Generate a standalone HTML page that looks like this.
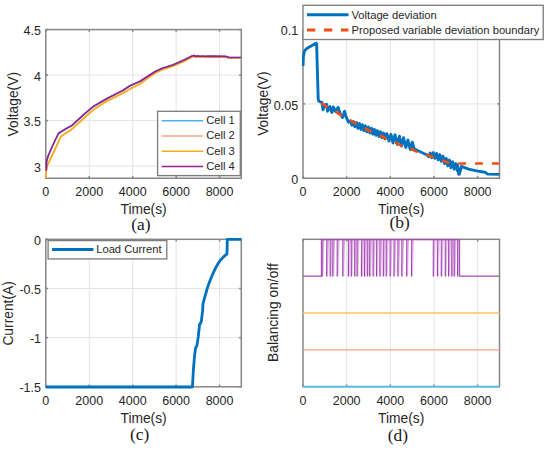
<!DOCTYPE html>
<html><head><meta charset="utf-8"><style>
html,body{margin:0;padding:0;background:#fff;}
svg{display:block;}
text{font-family:"Liberation Sans",sans-serif;}
.serif text{font-family:"Liberation Serif",serif;}
</style></head><body>
<svg width="550" height="453" viewBox="0 0 550 453">
<rect width="550" height="453" fill="#fff"/>
<defs>
<clipPath id="cA"><rect x="44.3" y="29.6" width="197.0" height="149.65"/></clipPath>
<clipPath id="cB"><rect x="301.8" y="9.600000000000001" width="197.7" height="169.65"/></clipPath>
</defs>
<g stroke="#e4e4e4" stroke-width="1"><line x1="89.24" y1="29.60" x2="89.24" y2="178.25"/><line x1="132.69" y1="29.60" x2="132.69" y2="178.25"/><line x1="176.13" y1="29.60" x2="176.13" y2="178.25"/><line x1="219.58" y1="29.60" x2="219.58" y2="178.25"/><line x1="45.80" y1="166.10" x2="241.30" y2="166.10"/><line x1="45.80" y1="120.60" x2="241.30" y2="120.60"/><line x1="45.80" y1="75.10" x2="241.30" y2="75.10"/></g>
<g stroke="#868686" stroke-width="1.5" fill="none"><rect x="45.80" y="29.60" width="195.50" height="148.65" fill="none"/><line x1="45.80" y1="178.25" x2="45.80" y2="176.05"/><line x1="45.80" y1="29.60" x2="45.80" y2="31.80"/><line x1="89.24" y1="178.25" x2="89.24" y2="176.05"/><line x1="89.24" y1="29.60" x2="89.24" y2="31.80"/><line x1="132.69" y1="178.25" x2="132.69" y2="176.05"/><line x1="132.69" y1="29.60" x2="132.69" y2="31.80"/><line x1="176.13" y1="178.25" x2="176.13" y2="176.05"/><line x1="176.13" y1="29.60" x2="176.13" y2="31.80"/><line x1="219.58" y1="178.25" x2="219.58" y2="176.05"/><line x1="219.58" y1="29.60" x2="219.58" y2="31.80"/><line x1="45.80" y1="166.10" x2="48.00" y2="166.10"/><line x1="241.30" y1="166.10" x2="239.10" y2="166.10"/><line x1="45.80" y1="120.60" x2="48.00" y2="120.60"/><line x1="241.30" y1="120.60" x2="239.10" y2="120.60"/><line x1="45.80" y1="75.10" x2="48.00" y2="75.10"/><line x1="241.30" y1="75.10" x2="239.10" y2="75.10"/><line x1="45.80" y1="29.60" x2="48.00" y2="29.60"/><line x1="241.30" y1="29.60" x2="239.10" y2="29.60"/></g>
<g clip-path="url(#cA)">
<polyline points="46.30,170.60 46.60,161.50 48.10,156.00 52.90,145.00 58.40,133.50 60.20,132.30 66.30,128.60 71.80,125.60 77.70,120.10 85.40,113.10 93.00,106.70 107.00,98.50 122.30,90.80 130.00,85.70 140.20,81.30 147.80,76.20 154.80,71.70 161.80,68.50 173.30,64.70 183.50,60.30 192.40,55.80 194.30,55.60 196.20,56.60 198.00,55.90 200.00,56.50 202.00,56.00 205.00,56.40 210.00,56.20 225.70,56.40 229.00,57.50 241.30,57.50" fill="none" stroke="#4db3e6" stroke-width="1.5" stroke-linejoin="round" />
<polyline points="45.60,177.90 46.30,168.70 47.50,165.10 54.20,151.10 60.80,136.50 62.70,135.30 71.80,129.30 77.70,123.90 85.40,116.90 93.00,109.90 107.00,101.00 122.30,93.40 130.00,88.90 140.20,83.80 147.80,78.10 154.80,73.30 161.80,69.80 173.30,66.00 183.50,61.50 192.40,56.70 194.30,56.40 200.00,57.00 225.70,57.00 229.00,58.00 241.30,58.00" fill="none" stroke="#f7a488" stroke-width="1.5" stroke-linejoin="round" />
<polyline points="45.60,177.90 46.30,168.70 47.50,165.10 54.20,151.10 60.80,136.50 62.70,135.30 71.80,129.30 77.70,123.90 85.40,116.90 93.00,109.90 107.00,101.00 122.30,93.40 130.00,88.90 140.20,83.80 147.80,78.10 154.80,73.30 161.80,69.80 173.30,66.00 183.50,61.50 192.40,56.70 194.30,56.40 200.00,57.00 225.70,57.00 229.00,58.00 241.30,58.00" fill="none" stroke="#f7ad14" stroke-width="1.7" stroke-linejoin="round" />
<polyline points="46.30,170.60 46.60,161.50 48.10,156.00 52.90,145.00 58.40,133.50 60.20,132.30 66.30,128.60 71.80,125.60 77.70,120.10 85.40,113.10 93.00,106.70 107.00,98.50 122.30,90.80 130.00,85.70 140.20,81.30 147.80,76.20 154.80,71.70 161.80,68.50 173.30,64.70 183.50,60.30 192.40,55.80 194.30,55.60 196.20,56.60 198.00,55.90 200.00,56.50 202.00,56.00 205.00,56.40 210.00,56.20 225.70,56.40 229.00,57.50 241.30,57.50" fill="none" stroke="#8f2192" stroke-width="1.7" stroke-linejoin="round" />
</g>
<g font-size="12.5" fill="#262626"><text x="45.80" y="196.45" text-anchor="middle">0</text><text x="89.24" y="196.45" text-anchor="middle">2000</text><text x="132.69" y="196.45" text-anchor="middle">4000</text><text x="176.13" y="196.45" text-anchor="middle">6000</text><text x="219.58" y="196.45" text-anchor="middle">8000</text><text x="41.00" y="171.75" text-anchor="end">3</text><text x="41.00" y="126.25" text-anchor="end">3.5</text><text x="41.00" y="80.75" text-anchor="end">4</text><text x="41.00" y="35.25" text-anchor="end">4.5</text></g>
<rect x="157.6" y="111.3" width="82.70" height="64.30" fill="#fff" stroke="#7e7e7e" stroke-width="1.35"/>
<line x1="161.7" y1="120.80" x2="203.2" y2="120.80" stroke="#4db3e6" stroke-width="1.6"/>
<text x="206.2" y="124.20" font-size="11.2" fill="#262626">Cell 1</text>
<line x1="161.7" y1="136.05" x2="203.2" y2="136.05" stroke="#f7a488" stroke-width="1.6"/>
<text x="206.2" y="139.45" font-size="11.2" fill="#262626">Cell 2</text>
<line x1="161.7" y1="151.30" x2="203.2" y2="151.30" stroke="#f7ad14" stroke-width="1.6"/>
<text x="206.2" y="154.70" font-size="11.2" fill="#262626">Cell 3</text>
<line x1="161.7" y1="166.55" x2="203.2" y2="166.55" stroke="#8f2192" stroke-width="1.6"/>
<text x="206.2" y="169.95" font-size="11.2" fill="#262626">Cell 4</text>
<g stroke="#e4e4e4" stroke-width="1"><line x1="346.67" y1="29.60" x2="346.67" y2="178.25"/><line x1="390.33" y1="29.60" x2="390.33" y2="178.25"/><line x1="434.00" y1="29.60" x2="434.00" y2="178.25"/><line x1="477.67" y1="29.60" x2="477.67" y2="178.25"/><line x1="303.00" y1="103.92" x2="499.50" y2="103.92"/></g>
<g stroke="#868686" stroke-width="1.5" fill="none"><rect x="303.00" y="29.60" width="196.50" height="148.65" fill="none"/><line x1="303.00" y1="178.25" x2="303.00" y2="176.05"/><line x1="303.00" y1="29.60" x2="303.00" y2="31.80"/><line x1="346.67" y1="178.25" x2="346.67" y2="176.05"/><line x1="346.67" y1="29.60" x2="346.67" y2="31.80"/><line x1="390.33" y1="178.25" x2="390.33" y2="176.05"/><line x1="390.33" y1="29.60" x2="390.33" y2="31.80"/><line x1="434.00" y1="178.25" x2="434.00" y2="176.05"/><line x1="434.00" y1="29.60" x2="434.00" y2="31.80"/><line x1="477.67" y1="178.25" x2="477.67" y2="176.05"/><line x1="477.67" y1="29.60" x2="477.67" y2="31.80"/><line x1="303.00" y1="178.25" x2="305.20" y2="178.25"/><line x1="499.50" y1="178.25" x2="497.30" y2="178.25"/><line x1="303.00" y1="103.92" x2="305.20" y2="103.92"/><line x1="499.50" y1="103.92" x2="497.30" y2="103.92"/><line x1="303.00" y1="29.60" x2="305.20" y2="29.60"/><line x1="499.50" y1="29.60" x2="497.30" y2="29.60"/></g>
<g clip-path="url(#cB)">
<polyline points="303.00,66.00 303.40,56.00 304.60,50.70 307.10,48.20 315.90,43.30 316.60,43.40 318.20,99.00 318.90,101.20 320.20,101.80 322.00,102.30 323.00,109.90 324.60,104.90 326.60,104.30 327.60,111.20 329.90,106.60 331.90,112.50 333.20,106.90 335.20,111.20 338.20,107.30 339.80,112.90 342.50,117.50 344.50,111.20 345.80,116.20 348.50,122.20 350.40,120.80 351.90,125.33 353.40,121.59 354.90,126.80 356.40,122.46 357.90,128.27 359.40,123.47 360.90,129.45 362.40,124.64 363.90,130.63 365.40,125.82 366.90,131.81 368.40,127.00 369.90,132.98 371.40,128.17 372.90,134.16 374.40,129.35 375.90,135.34 377.40,130.53 378.90,136.51 380.40,131.70 381.90,137.69 383.40,132.88 384.90,138.87 386.40,133.90 387.00,133.80 389.00,141.00 391.00,134.30 393.00,143.00 395.00,134.80 397.30,144.50 399.50,136.20 401.50,146.00 403.60,137.70 405.80,147.50 408.00,140.00 410.20,149.50 412.30,142.20 414.00,148.70 427.00,155.00 428.60,156.69 430.20,153.00 431.80,157.74 433.40,152.60 435.00,158.43 436.60,153.45 438.20,159.80 439.80,154.58 441.40,161.32 443.00,156.13 444.60,163.62 446.20,158.41 447.80,165.83 449.40,160.09 451.00,167.67 452.60,161.77 454.20,169.19 455.80,163.59 457.40,170.70 457.40,164.80 458.70,174.30 459.30,174.30 461.40,166.40 468.60,169.10 477.70,171.10 485.00,172.30 487.70,174.10 499.50,174.40" fill="none" stroke="#0072bd" stroke-width="2.9" stroke-linejoin="round" />
<polyline points="321.00,103.00 327.90,107.30 335.90,111.90 342.50,116.20 349.80,120.20 356.80,124.10 365.00,128.30 371.90,131.90 379.90,135.40 387.30,139.00 395.00,142.30 402.30,145.90 410.50,148.80 417.70,152.10 426.40,154.50 433.60,157.30 442.20,160.50 449.60,163.20 451.80,163.50 499.50,163.50" fill="none" stroke="#fa4b10" stroke-width="2.6" stroke-linejoin="round" stroke-dasharray="7.8 9" stroke-linejoin="miter"/>
</g>
<g font-size="12.5" fill="#262626"><text x="303.00" y="196.45" text-anchor="middle">0</text><text x="346.67" y="196.45" text-anchor="middle">2000</text><text x="390.33" y="196.45" text-anchor="middle">4000</text><text x="434.00" y="196.45" text-anchor="middle">6000</text><text x="477.67" y="196.45" text-anchor="middle">8000</text><text x="298.20" y="183.90" text-anchor="end">0</text><text x="298.20" y="109.58" text-anchor="end">0.05</text><text x="298.20" y="35.25" text-anchor="end">0.1</text></g>
<rect x="303.0" y="5.3" width="240.2" height="34.2" fill="#fff" stroke="#7e7e7e" stroke-width="1.35"/>
<line x1="307" y1="14.7" x2="348.5" y2="14.7" stroke="#0072bd" stroke-width="3.0"/>
<line x1="307" y1="30" x2="348.5" y2="30" stroke="#fa4b10" stroke-width="2.8" stroke-dasharray="8.3 8.7"/>
<text x="351.5" y="18.8" font-size="11.2" fill="#262626">Voltage deviation</text>
<text x="351.5" y="34.1" font-size="11.2" fill="#262626">Proposed variable deviation boundary</text>
<g stroke="#e4e4e4" stroke-width="1"><line x1="89.24" y1="239.30" x2="89.24" y2="386.80"/><line x1="132.69" y1="239.30" x2="132.69" y2="386.80"/><line x1="176.13" y1="239.30" x2="176.13" y2="386.80"/><line x1="219.58" y1="239.30" x2="219.58" y2="386.80"/><line x1="45.80" y1="337.63" x2="241.30" y2="337.63"/><line x1="45.80" y1="288.47" x2="241.30" y2="288.47"/></g>
<g stroke="#868686" stroke-width="1.5" fill="none"><rect x="45.80" y="239.30" width="195.50" height="147.50" fill="none"/><line x1="45.80" y1="386.80" x2="45.80" y2="384.60"/><line x1="45.80" y1="239.30" x2="45.80" y2="241.50"/><line x1="89.24" y1="386.80" x2="89.24" y2="384.60"/><line x1="89.24" y1="239.30" x2="89.24" y2="241.50"/><line x1="132.69" y1="386.80" x2="132.69" y2="384.60"/><line x1="132.69" y1="239.30" x2="132.69" y2="241.50"/><line x1="176.13" y1="386.80" x2="176.13" y2="384.60"/><line x1="176.13" y1="239.30" x2="176.13" y2="241.50"/><line x1="219.58" y1="386.80" x2="219.58" y2="384.60"/><line x1="219.58" y1="239.30" x2="219.58" y2="241.50"/><line x1="45.80" y1="386.80" x2="48.00" y2="386.80"/><line x1="241.30" y1="386.80" x2="239.10" y2="386.80"/><line x1="45.80" y1="337.63" x2="48.00" y2="337.63"/><line x1="241.30" y1="337.63" x2="239.10" y2="337.63"/><line x1="45.80" y1="288.47" x2="48.00" y2="288.47"/><line x1="241.30" y1="288.47" x2="239.10" y2="288.47"/><line x1="45.80" y1="239.30" x2="48.00" y2="239.30"/><line x1="241.30" y1="239.30" x2="239.10" y2="239.30"/></g>
<g>
<polyline points="45.80,387.00 192.40,387.00 193.50,368.30 194.70,354.20 195.60,348.00 197.00,345.30 198.30,336.50 199.50,325.00 201.30,321.50 202.70,310.00 202.90,304.50 204.00,299.80 207.20,288.60 209.00,283.30 211.00,278.20 213.30,272.80 215.60,268.00 217.80,264.00 220.20,260.50 223.50,256.90 227.00,253.90 227.30,239.30 241.30,239.30" fill="none" stroke="#0072bd" stroke-width="2.8" stroke-linejoin="round" />
</g>
<g font-size="12.5" fill="#262626"><text x="45.80" y="404.60" text-anchor="middle">0</text><text x="89.24" y="404.60" text-anchor="middle">2000</text><text x="132.69" y="404.60" text-anchor="middle">4000</text><text x="176.13" y="404.60" text-anchor="middle">6000</text><text x="219.58" y="404.60" text-anchor="middle">8000</text><text x="41.00" y="392.45" text-anchor="end">-1.5</text><text x="41.00" y="343.28" text-anchor="end">-1</text><text x="41.00" y="294.12" text-anchor="end">-0.5</text><text x="41.00" y="244.95" text-anchor="end">0</text></g>
<rect x="48.1" y="240.6" width="118.7" height="18.3" fill="#fff" stroke="#7e7e7e" stroke-width="1.35"/>
<line x1="52" y1="249.6" x2="93.4" y2="249.6" stroke="#0072bd" stroke-width="3.0"/>
<text x="96.2" y="253.1" font-size="11.2" fill="#262626">Load Current</text>
<g stroke="#e4e4e4" stroke-width="1"><line x1="346.67" y1="239.30" x2="346.67" y2="386.70"/><line x1="390.33" y1="239.30" x2="390.33" y2="386.70"/><line x1="434.00" y1="239.30" x2="434.00" y2="386.70"/><line x1="477.67" y1="239.30" x2="477.67" y2="386.70"/></g>
<g stroke="#868686" stroke-width="1.5" fill="none"><rect x="303.00" y="239.30" width="196.50" height="147.40" fill="none"/><line x1="303.00" y1="386.70" x2="303.00" y2="384.50"/><line x1="303.00" y1="239.30" x2="303.00" y2="241.50"/><line x1="346.67" y1="386.70" x2="346.67" y2="384.50"/><line x1="346.67" y1="239.30" x2="346.67" y2="241.50"/><line x1="390.33" y1="386.70" x2="390.33" y2="384.50"/><line x1="390.33" y1="239.30" x2="390.33" y2="241.50"/><line x1="434.00" y1="386.70" x2="434.00" y2="384.50"/><line x1="434.00" y1="239.30" x2="434.00" y2="241.50"/><line x1="477.67" y1="386.70" x2="477.67" y2="384.50"/><line x1="477.67" y1="239.30" x2="477.67" y2="241.50"/></g>
<line x1="303.0" y1="349.85" x2="499.5" y2="349.85" stroke="#f7a488" stroke-width="1.3"/>
<line x1="303.0" y1="313.00" x2="499.5" y2="313.00" stroke="#f8c850" stroke-width="1.3"/>
<defs><linearGradient id="pg" gradientUnits="userSpaceOnUse" x1="0" y1="239.30" x2="0" y2="276.15"><stop offset="0" stop-color="#d9a6e0"/><stop offset="1" stop-color="#ead0ee"/></linearGradient><linearGradient id="pd" gradientUnits="userSpaceOnUse" x1="0" y1="239.30" x2="0" y2="276.15"><stop offset="0" stop-color="#b264c0"/><stop offset="1" stop-color="#9c36ae"/></linearGradient></defs>
<path d="M322.10,239.30 L324.40,239.30 L323.60,276.15 L322.10,276.15 Z M326.70,239.30 L329.00,239.30 L328.20,276.15 L326.70,276.15 Z M330.20,239.30 L332.50,239.30 L331.70,276.15 L330.20,276.15 Z M332.80,239.30 L335.10,239.30 L334.30,276.15 L332.80,276.15 Z M337.20,239.30 L339.50,239.30 L338.70,276.15 L337.20,276.15 Z M342.80,239.30 L345.10,239.30 L344.30,276.15 L342.80,276.15 Z M348.40,239.30 L350.70,239.30 L349.90,276.15 L348.40,276.15 Z M351.30,239.30 L353.60,239.30 L352.80,276.15 L351.30,276.15 Z M354.70,239.30 L357.00,239.30 L356.20,276.15 L354.70,276.15 Z M357.10,239.30 L359.40,239.30 L358.60,276.15 L357.10,276.15 Z M361.50,239.30 L363.80,239.30 L363.00,276.15 L361.50,276.15 Z M364.40,239.30 L366.70,239.30 L365.90,276.15 L364.40,276.15 Z M367.30,239.30 L369.60,239.30 L368.80,276.15 L367.30,276.15 Z M369.70,239.30 L372.00,239.30 L371.20,276.15 L369.70,276.15 Z M373.10,239.30 L375.40,239.30 L374.60,276.15 L373.10,276.15 Z M376.50,239.30 L378.80,239.30 L378.00,276.15 L376.50,276.15 Z M379.90,239.30 L382.20,239.30 L381.40,276.15 L379.90,276.15 Z M383.30,239.30 L385.60,239.30 L384.80,276.15 L383.30,276.15 Z M386.20,239.30 L388.50,239.30 L387.70,276.15 L386.20,276.15 Z M390.10,239.30 L392.40,239.30 L391.60,276.15 L390.10,276.15 Z M394.00,239.30 L396.30,239.30 L395.50,276.15 L394.00,276.15 Z M397.90,239.30 L400.20,239.30 L399.40,276.15 L397.90,276.15 Z M401.80,239.30 L404.10,239.30 L403.30,276.15 L401.80,276.15 Z M406.70,239.30 L409.00,239.30 L408.20,276.15 L406.70,276.15 Z M411.50,239.30 L413.80,239.30 L413.00,276.15 L411.50,276.15 Z M433.30,239.30 L435.60,239.30 L434.80,276.15 L433.30,276.15 Z M437.40,239.30 L439.70,239.30 L438.90,276.15 L437.40,276.15 Z M441.30,239.30 L443.60,239.30 L442.80,276.15 L441.30,276.15 Z M445.30,239.30 L447.60,239.30 L446.80,276.15 L445.30,276.15 Z M448.60,239.30 L450.90,239.30 L450.10,276.15 L448.60,276.15 Z M451.80,239.30 L454.10,239.30 L453.30,276.15 L451.80,276.15 Z M454.20,239.30 L456.50,239.30 L455.70,276.15 L454.20,276.15 Z M457.60,239.30 L459.90,239.30 L459.10,276.15 L457.60,276.15 Z" fill="url(#pg)"/>
<path d="M322.10,239.30V276.45M326.70,239.30V276.45M330.20,239.30V276.45M332.80,239.30V276.45M337.20,239.30V276.45M342.80,239.30V276.45M348.40,239.30V276.45M351.30,239.30V276.45M354.70,239.30V276.45M357.10,239.30V276.45M361.50,239.30V276.45M364.40,239.30V276.45M367.30,239.30V276.45M369.70,239.30V276.45M373.10,239.30V276.45M376.50,239.30V276.45M379.90,239.30V276.45M383.30,239.30V276.45M386.20,239.30V276.45M390.10,239.30V276.45M394.00,239.30V276.45M397.90,239.30V276.45M401.80,239.30V276.45M406.70,239.30V276.45M411.50,239.30V276.45M433.30,239.30V276.45M437.40,239.30V276.45M441.30,239.30V276.45M445.30,239.30V276.45M448.60,239.30V276.45M451.80,239.30V276.45M454.20,239.30V276.45M457.60,239.30V276.45" stroke="url(#pd)" stroke-width="1.15" fill="none"/>
<polyline points="303.00,276.15 321.4,276.15 321.4,239.60 459.6,239.60 459.6,276.15 499.50,276.15" fill="none" stroke="#a24cb0" stroke-width="1.1"/>
<line x1="303.0" y1="386.70" x2="499.5" y2="386.70" stroke="#5bbce8" stroke-width="1.7"/>
<g font-size="12.5" fill="#262626"><text x="303.00" y="404.50" text-anchor="middle">0</text><text x="346.67" y="404.50" text-anchor="middle">2000</text><text x="390.33" y="404.50" text-anchor="middle">4000</text><text x="434.00" y="404.50" text-anchor="middle">6000</text><text x="477.67" y="404.50" text-anchor="middle">8000</text></g>
<g font-size="13.8" fill="#262626"><text x="143.6" y="214.3" text-anchor="middle">Time(s)</text><text x="401.2" y="214.1" text-anchor="middle">Time(s)</text><text x="143.6" y="423.2" text-anchor="middle">Time(s)</text><text x="401.2" y="423.2" text-anchor="middle">Time(s)</text><text transform="translate(18.3,104.2) rotate(-90)" text-anchor="middle">Voltage(V)</text><text transform="translate(267.8,103.6) rotate(-90)" text-anchor="middle">Voltage(V)</text><text transform="translate(13.2,313.4) rotate(-90)" text-anchor="middle">Current(A)</text><text transform="translate(277.6,312.6) rotate(-90)" text-anchor="middle">Balancing on/off</text></g>
<g class="serif" font-size="17.4" fill="#1a1a1a"><text x="140.8" y="229.5" text-anchor="middle">(a)</text><text x="399.7" y="227.9" text-anchor="middle">(b)</text><text x="139.6" y="440.0" text-anchor="middle">(c)</text><text x="397.9" y="440.9" text-anchor="middle">(d)</text></g>
</svg>
</body></html>
